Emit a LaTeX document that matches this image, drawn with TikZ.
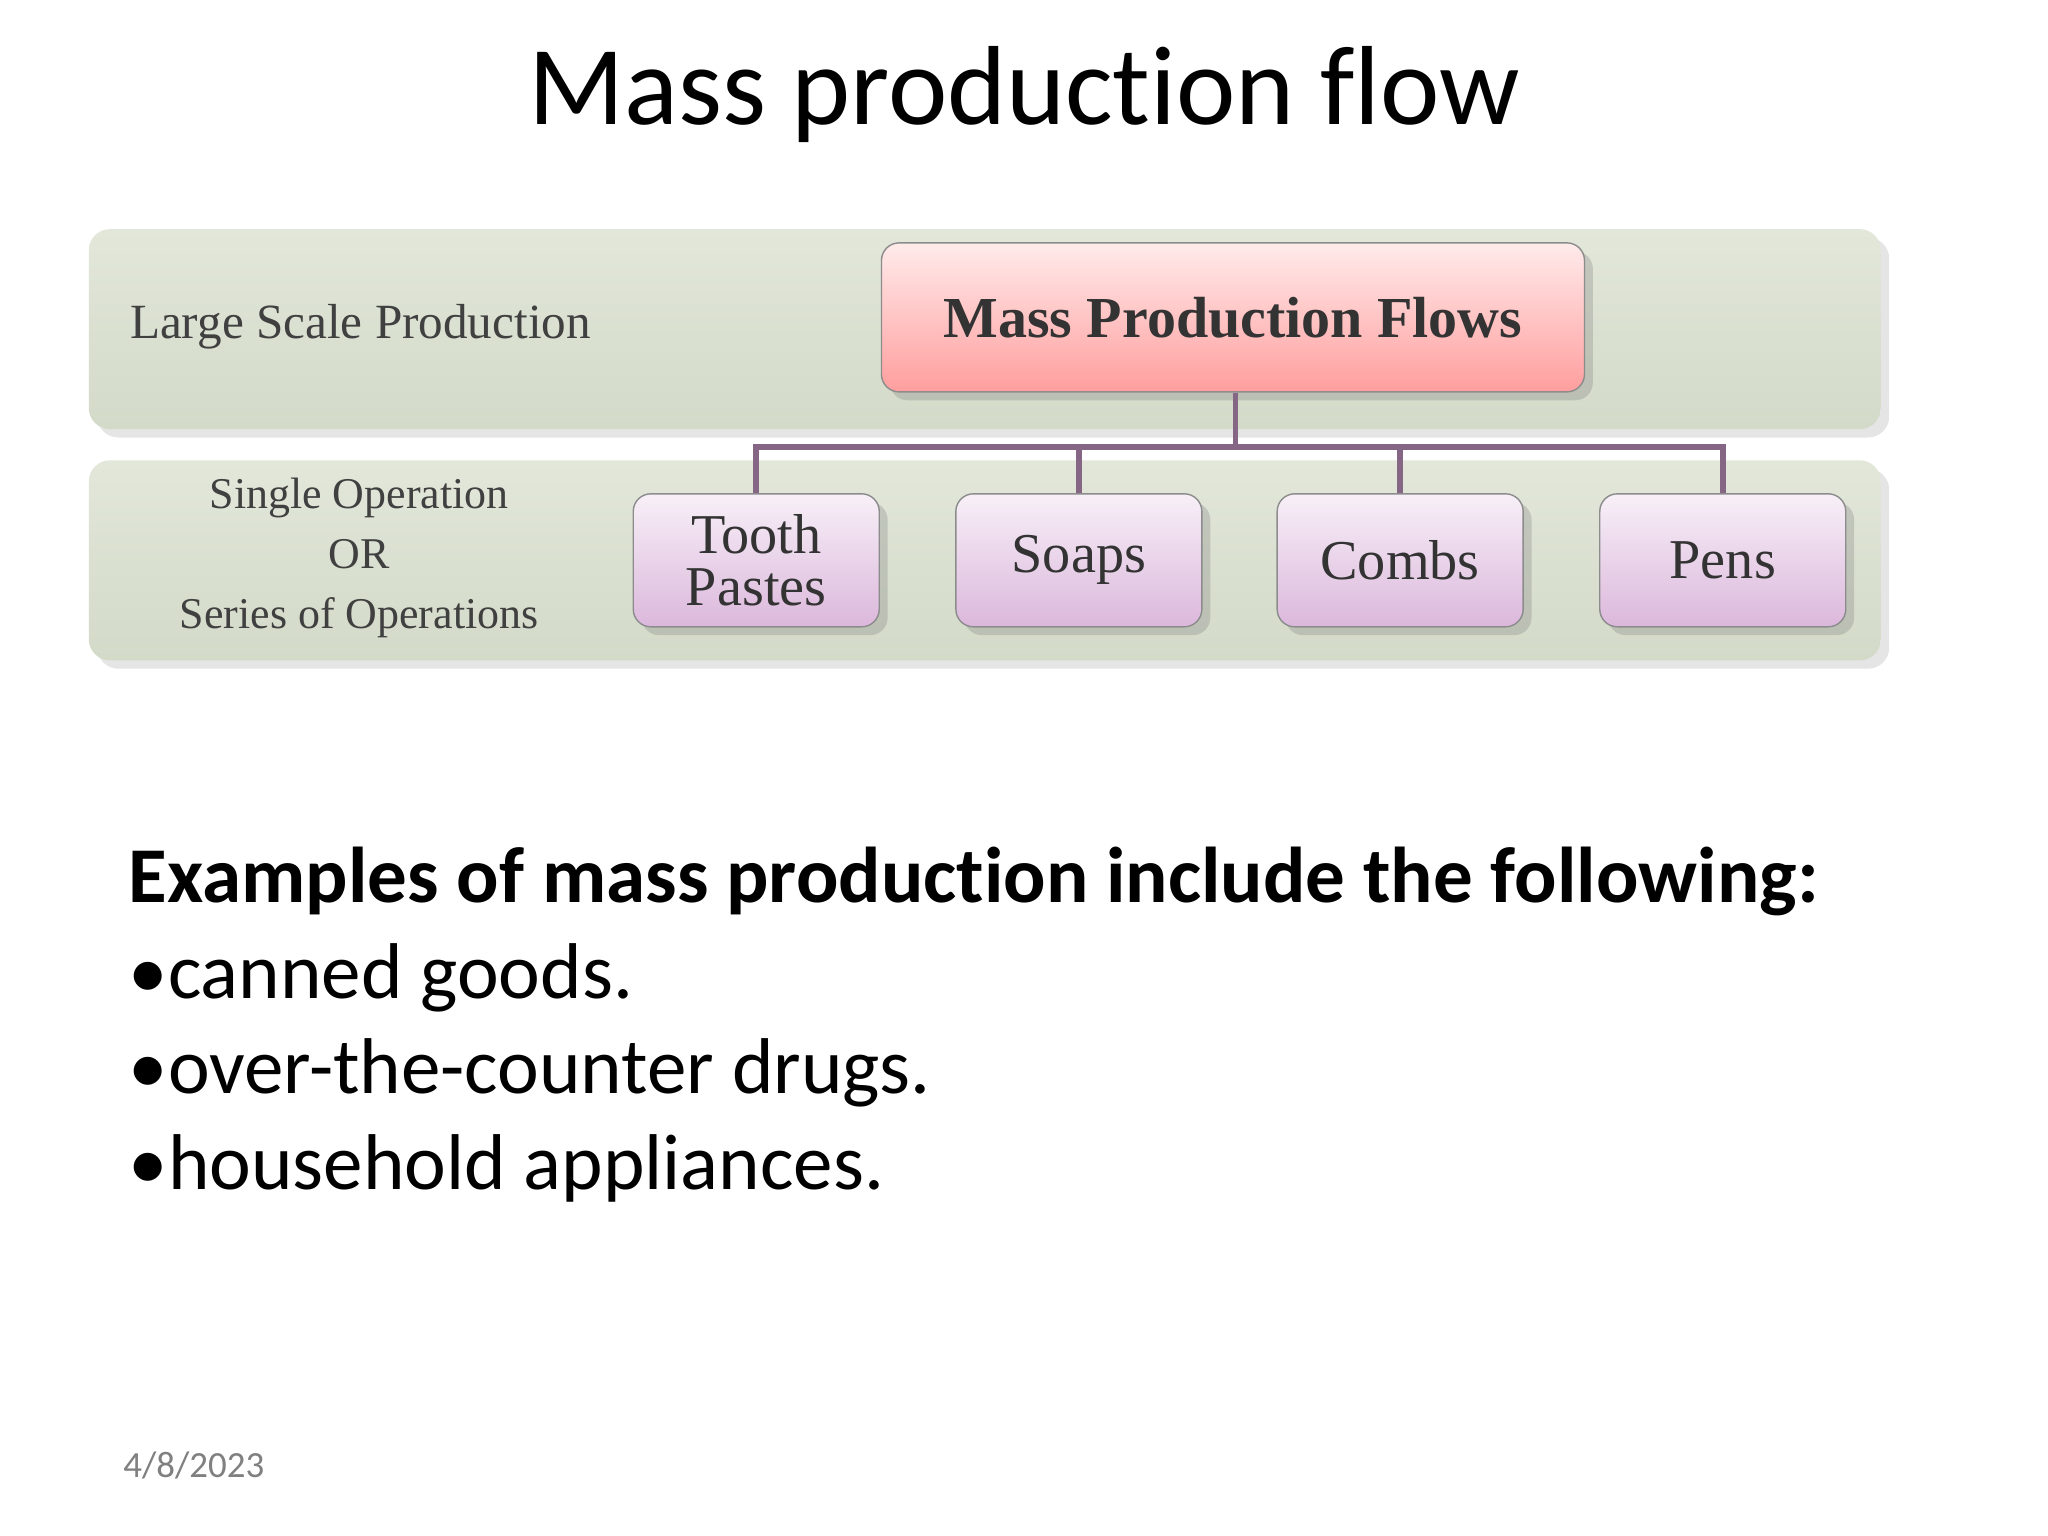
\documentclass[tikz,border=0pt]{standalone}
\usepackage{fontspec}
\setmainfont{Carlito}[RawFeature=-liga]
\newfontfamily\serif{Liberation Serif}
\usetikzlibrary{shadows}
\definecolor{bandtop}{HTML}{E2E7DA}
\definecolor{bandbot}{HTML}{D3DAC8}
\begin{document}
\begin{tikzpicture}[x=0.01306cm,y=-0.01306cm,
 band/.style={draw=none,rounded corners=6pt,top color=bandtop,bottom color=bandbot,drop shadow={opacity=0.2},minimum width=17.92cm,minimum height=2.0cm},
 pinkbox/.style={draw=black!45,rounded corners=5pt,top color=red!8,bottom color=red!38,drop shadow={opacity=0.3},minimum width=7.03cm,minimum height=1.49cm,font=\serif\bfseries\fontsize{16.5}{18}\selectfont,text=black!80},
 itembox/.style={draw=black!45,rounded corners=5pt,top color=violet!6,bottom color=violet!28,drop shadow={opacity=0.3},minimum width=2.46cm,minimum height=1.33cm,font=\serif\fontsize{16}{16}\selectfont,text=black!80,align=center},
 conn/.style={draw=black!60!violet!60,line width=1.6pt}]
\useasboundingbox (0,0) rectangle (1568,1176);
\fill[white] (0,0) rectangle (1568,1176);
\node[font=\fontsize{32}{38}\selectfont] (title) at (784,72) {Mass production flow};
\node[band] (b1) at (754,252) {};
\node[band] (b2) at (754,429) {};
\node[font=\serif\fontsize{14}{16}\selectfont,text=black!75] (lsp) at (276,250) {Large Scale Production};
\node[font=\serif\fontsize{12.5}{17}\selectfont,text=black!75,align=center] (sop) at (275,427) {Single Operation\\OR\\Series of Operations};
\node[pinkbox] (mpf) at (944,243) {Mass Production Flows};
\node[itembox] (tp) at (579,429) {Tooth\\[-1pt]Pastes};
\node[itembox] (so) at (826,429) {Soaps};
\node[itembox] (co) at (1072,429) {Combs};
\node[itembox] (pe) at (1319,429) {Pens};
\coordinate (j) at (946,342);
\draw[conn] (mpf.south -| j) -- (j);
\draw[conn] (tp.north) |- (j) -| (pe.north);
\draw[conn] (so.north) -- (so.north |- j);
\draw[conn] (co.north) -- (co.north |- j);
\node[anchor=north west,align=left,font=\fontsize{22.5}{27.2}\selectfont,inner sep=0pt] (list) at (98,648)
 {\textbf{Examples of mass production include the following:}\\
 •canned goods.\\
 •over-the-counter drugs.\\
 •household appliances.};
\node[anchor=west,font=\fontsize{10.5}{12}\selectfont,text=black!50,inner sep=0pt] (date) at (94,1122) {4/8/2023};
\end{tikzpicture}
\end{document}
